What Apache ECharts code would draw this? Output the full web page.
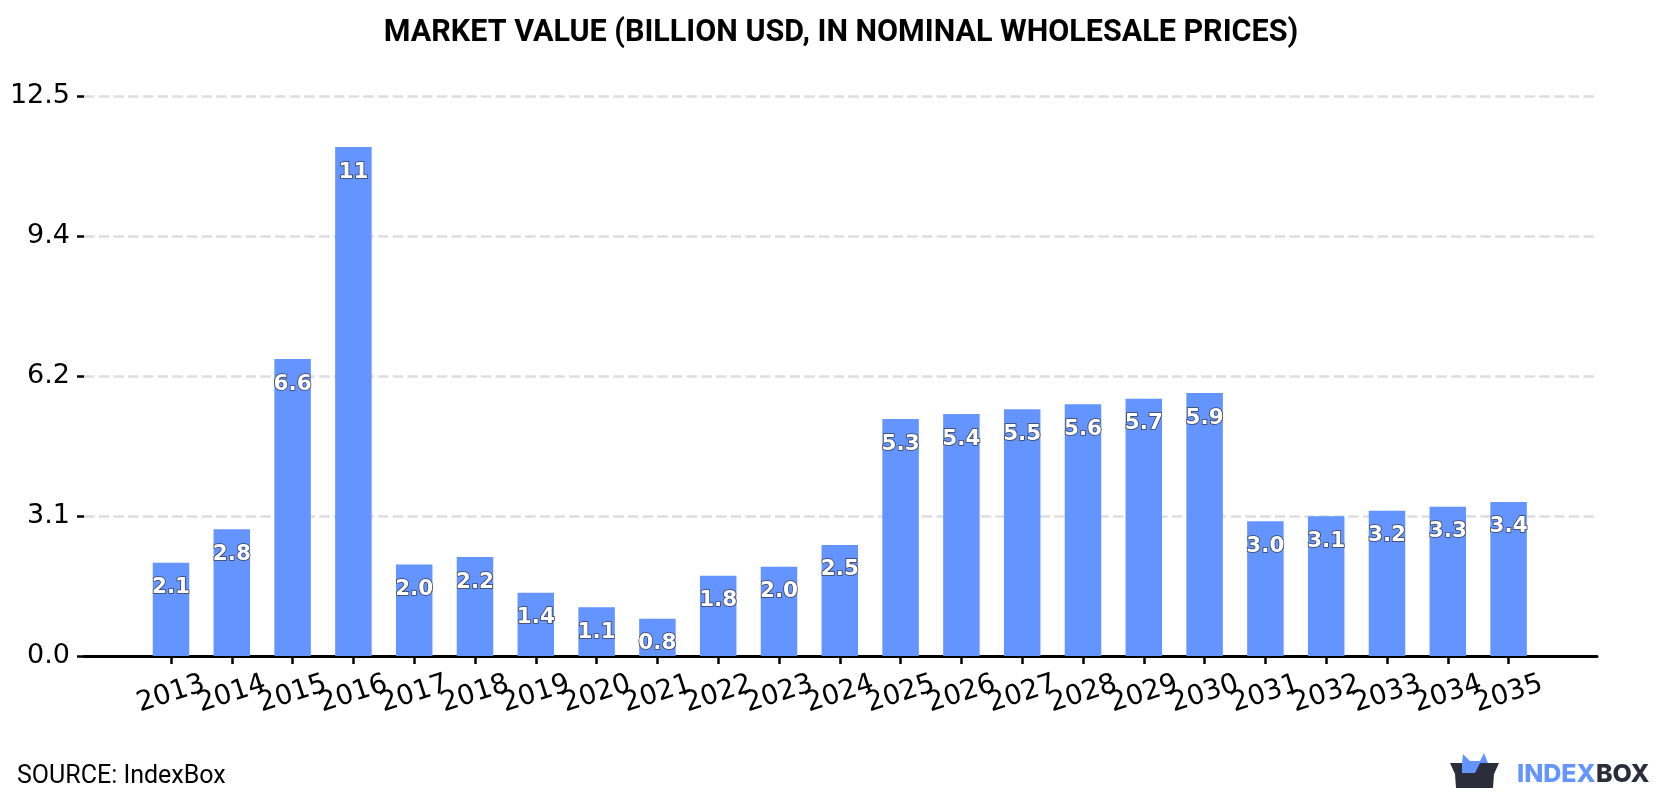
<!DOCTYPE html>
<html>
<head>
<meta charset="utf-8">
<title>Market value</title>
<style>html,body{margin:0;padding:0;background:#fff}#chart{width:1680px;height:800px}</style>
<script src="https://cdn.jsdelivr.net/npm/echarts@6/dist/echarts.min.js"></script>
</head>
<body>
<div id="chart"></div>
<script>
const years = [2013,2014,2015,2016,2017,2018,2019,2020,2021,2022,2023,2024,2025,2026,2027,2028,2029,2030,2031,2032,2033,2034,2035];
const marketValue = [2.08,2.83,6.63,11.36,2.04,2.21,1.41,1.09,0.83,1.79,1.99,2.48,5.29,5.40,5.51,5.62,5.74,5.87,3.01,3.12,3.24,3.33,3.44];
const valueTicks = [0, 3.125, 6.25, 9.375, 12.5];
const valueTickLabels = ['0.0','3.1','6.2','9.4','12.5'];

const TITLE = 'MARKET VALUE (BILLION USD, IN NOMINAL WHOLESALE PRICES)';
const SOURCE = 'SOURCE: IndexBox';
const BLUE = '#6394ff';
const DARK = '#2b2d3a';
const X_MIN = 2011.569;
const X_MAX = 2036.454;

// Values above ten are shown without a decimal place
const valueLabel = v => v >= 10 ? v.toFixed(0) : v.toFixed(1);

const chart = echarts.init(document.getElementById('chart'), null, {renderer: 'canvas'});
chart.setOption({
  animation: false,
  backgroundColor: '#fff',
  title: {
    text: TITLE, left: 836, top: 13, textAlign: 'center',
    textStyle: {fontFamily: 'Roboto', fontWeight: 'bold', fontSize: 30.5, color: '#000'}
  },
  grid: {left: 84, right: 83, top: 96, bottom: 144},
  xAxis: {
    type: 'value',
    min: X_MIN,
    max: X_MAX,
    splitLine: {show: false},
    axisLine: {show: true, onZero: false, lineStyle: {color: '#000', width: 3}},
    axisTick: {show: true, customValues: years, length: 8, lineStyle: {color: '#000', width: 2.5}},
    axisLabel: {
      // Blank labels at the axis ends keep the tightly packed years from being culled
      customValues: [X_MIN].concat(years, [X_MAX]),
      rotate: 18, margin: 38, align: 'center', verticalAlign: 'middle',
      fontFamily: 'DejaVu Sans', fontSize: 27.5, color: '#000',
      formatter: v => years.includes(v) ? String(v) : '',
      hideOverlap: false
    }
  },
  yAxis: {
    type: 'value',
    min: 0,
    max: 12.5,
    axisLine: {show: false},
    axisTick: {show: true, customValues: valueTicks, length: 7, lineStyle: {color: '#000', width: 2.5}},
    axisLabel: {
      customValues: valueTicks, margin: 14, fontFamily: 'DejaVu Sans', fontSize: 27, color: '#000',
      padding: [8, 0, 0, 0],
      formatter: v => valueTickLabels[valueTicks.indexOf(v)]
    },
    splitLine: {show: true, lineStyle: {color: '#dedede', width: 2.5, type: [10.5, 4.2]}}
  },
  series: [{
    type: 'bar',
    barWidth: 36.5,
    itemStyle: {color: BLUE},
    data: years.map((y, i) => [y, marketValue[i]]),
    label: {
      show: true, position: 'insideTop', distance: 14,
      fontFamily: 'DejaVu Sans', fontWeight: 'bold', fontSize: 21.5, color: '#fff',
      textBorderColor: '#3c4050', textBorderWidth: 1.6,
      formatter: p => valueLabel(p.value[1])
    }
  }],
  graphic: [
    {type: 'text', left: 17, top: 764, style: {text: SOURCE, fontFamily: 'Roboto', fontSize: 25, fill: '#000'}},
    {type: 'polygon', shape: {points: [[1461,773],[1463,754],[1470,761],[1480,761],[1484,753],[1488,763],[1487,773]]}, style: {fill: BLUE}},
    {type: 'polygon', shape: {points: [[1450,763],[1480,763],[1475,773],[1461,773],[1461,763],[1499,763],[1494,774],[1493,788],[1456,788],[1455,774]]}, style: {fill: DARK}},
    {type: 'polygon', shape: {points: [[1462,763],[1480,763],[1475,773],[1462,773]]}, style: {fill: BLUE}},
    {type: 'text', left: 1517, top: 762, style: {text: 'INDEX', fontFamily: 'Inter', fontWeight: 800, fontSize: 25, fill: BLUE}},
    {type: 'text', left: 1596, top: 762, style: {text: 'BOX', fontFamily: 'Inter', fontWeight: 800, fontSize: 25, fill: DARK}}
  ]
});
</script>
</body>
</html>
